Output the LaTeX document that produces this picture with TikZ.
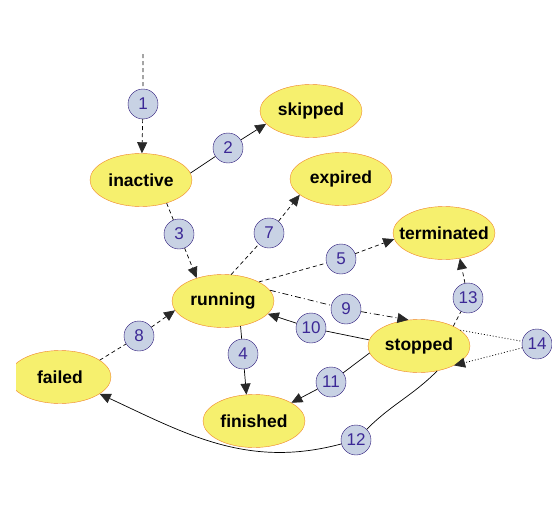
\documentclass[tikz,border=0pt]{standalone}
\usepackage{fontspec}
\setmainfont{Liberation Sans}
\usetikzlibrary{shapes.geometric,arrows.meta}
\definecolor{statefill}{RGB}{246,240,110}
\definecolor{stateline}{RGB}{240,130,40}
\definecolor{numfill}{RGB}{200,210,228}
\definecolor{numline}{RGB}{40,20,120}
\definecolor{numtext}{RGB}{60,40,150}
\definecolor{tipgray}{RGB}{40,40,40}
\begin{document}
\begin{tikzpicture}[x=1pt,y=1pt,
	state/.style={ellipse,draw=stateline,fill=statefill,minimum width=102pt,minimum height=53pt,inner xsep=-10pt,inner ysep=0pt,font=\fontsize{17.5}{20}\selectfont\bfseries},
	num/.style={circle,draw=numline,fill=numfill,minimum size=30pt,inner sep=0pt,text=numtext,font=\fontsize{17}{19}\selectfont},
	edge/.style={draw=black,line width=0.7pt},
	tip/.style={-{Triangle[length=11pt,width=10pt,color=tipgray]}},
	dashline/.style={dash pattern=on 4pt off 3pt},
	dashdotline/.style={dash pattern=on 6pt off 3pt on 1pt off 3pt},
	dotline/.style={dash pattern=on 1pt off 2pt}]
	\useasboundingbox (0,0) rectangle (552,-506);
	\clip (16,0) rectangle (552,-506);
	% states
	\node[state] (inactive) at (141,-180) {inactive};
	\node[state] (skipped) at (311,-111) {skipped};
	\node[state] (expired) at (341,-179) {expired};
	\node[state] (terminated) at (444,-233) {terminated};
	\node[state] (running) at (223,-301) {running};
	\node[state] (stopped) at (419,-346) {stopped};
	\node[state] (failed) at (60,-377) {failed};
	\node[state] (finished) at (254,-421) {finished};
	\coordinate (start) at (143,-54);
	% transition numbers
	\node[num] (n1) at (143,-104) {1};
	\node[num] (n2) at (228,-148) {2};
	\node[num] (n3) at (179,-234) {3};
	\node[num] (n4) at (243,-354) {4};
	\node[num] (n5) at (341,-259) {5};
	\node[num] (n7) at (269,-233) {7};
	\node[num] (n8) at (139,-336) {8};
	\node[num] (n9) at (346,-309) {9};
	\node[num] (n10) at (311,-328) {10};
	\node[num] (n11) at (331,-382) {11};
	\node[num] (n12) at (356,-440) {12};
	\node[num] (n13) at (468,-298) {13};
	\node[num] (n14) at (537,-344) {14};
	% transitions
	\draw[edge,tip,dashline] (start) -- (n1) -- (inactive.88);
	\draw[edge,tip] (inactive.8) -- (n2) -- (skipped.196);
	\draw[edge,tip,dashline] (inactive.-42) -- (n3) -- (running.139);
	\draw[edge,tip] (running.-55) -- (n4) -- (finished.106);
	\draw[edge,tip,dashline] (running.28) -- (n5) -- (terminated.187);
	\draw[edge,tip,dashline] (running.73) -- (n7) -- (expired.201);
	\draw[edge,tip,dashline] (failed.23) -- (n8) -- (running.191);
	\draw[edge,tip,dashdotline] (running.13) -- (n9) -- (stopped.112);
	\draw[edge,tip] (stopped.173) -- (n10) -- (running.-16);
	\draw[edge,tip] (stopped.188) -- (n11) -- (finished.26);
	\draw[edge,tip] (stopped.-54) to[out=-135,in=45] (n12)
		to[out=195,in=-25] (failed.-23);
	\draw[edge,tip,dashline] (stopped.30) -- (n13) -- (terminated.-58);
	\draw[edge,dotline] (stopped.21) -- (n14);
	\draw[edge,tip,dotline] (n14) -- (stopped.-29);
\end{tikzpicture}
\end{document}
